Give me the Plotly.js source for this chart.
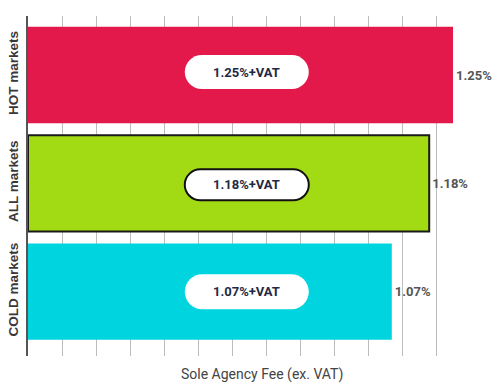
<!DOCTYPE html>
<html>
<head>
<meta charset="utf-8">
<script src="https://cdn.plot.ly/plotly-3.0.1.min.js"></script>
<style>
  html, body { margin: 0; padding: 0; background: #ffffff; }
  #chart { width: 497px; height: 389px; }
</style>
</head>
<body>
<div id="chart"></div>
<script>
// ---- data ----
const categories = ["HOT markets", "ALL markets", "COLD markets"];
const fees = [1.25, 1.18, 1.07];
const valueLabels = ["1.25%", "1.18%", "1.07%"];
const pillLabels = ["1.25%+VAT", "1.18%+VAT", "1.07%+VAT"];
const barColors = ["#E2194A", "#A2DA14", "#00D4DF"];
const xTitle = "Sole Agency Fee (ex. VAT)";

// ---- pill shape helper (rounded capsule in pixels) ----
function capsulePath(w, h, dy) {
  const r = h / 2, k = 0.5523 * r, hx = w / 2 - r;
  const p = (x, y) => `${x.toFixed(2)},${(y + dy).toFixed(2)}`;
  return `M ${p(-hx, -r)} L ${p(hx, -r)} ` +
    `C ${p(hx + k, -r)} ${p(hx + r, -k)} ${p(hx + r, 0)} ` +
    `C ${p(hx + r, k)} ${p(hx + k, r)} ${p(hx, r)} ` +
    `L ${p(-hx, r)} ` +
    `C ${p(-hx - k, r)} ${p(-hx - r, k)} ${p(-hx - r, 0)} ` +
    `C ${p(-hx - r, -k)} ${p(-hx - k, -r)} ${p(-hx, -r)} Z`;
}
const pillHeights = [34, 31, 35];
const pillBorders = [0, 2, 0];
const pillShift = [3, -1.5, 0];

const trace = {
  type: "bar",
  orientation: "h",
  y: categories,
  x: fees,
  width: 0.89,
  marker: {
    color: barColors,
    line: { color: ["rgba(0,0,0,0)", "#1a1a1a", "rgba(0,0,0,0)"], width: [0, 2, 0] }
  },
  text: valueLabels,
  textposition: "outside",
  constraintext: "none",
  cliponaxis: false,
  textfont: { family: "Roboto", size: 13, color: "#555555", weight: 700 },
  hoverinfo: "none"
};

const shapes = categories.map((c, i) => ({
  type: "path",
  xref: "paper", yref: "y",
  xsizemode: "pixel", ysizemode: "pixel",
  xanchor: 0.495, yanchor: c,
  path: capsulePath(124, pillHeights[i], pillShift[i]),
  fillcolor: "#ffffff",
  line: { color: pillBorders[i] ? "#111111" : "rgba(0,0,0,0)", width: pillBorders[i] },
  layer: "above"
}));

const annotations = categories.map((c, i) => ({
  xref: "paper", yref: "y",
  x: 0.495, y: c,
  yshift: pillShift[i],
  text: pillLabels[i],
  showarrow: false,
  font: { family: "Roboto", size: 13, color: "#1F2A44", weight: 700 },
  xanchor: "center", yanchor: "middle"
}));

annotations.push({
  xref: "paper", yref: "paper",
  x: 0.5, y: 0,
  xshift: 13, yshift: -8,
  xanchor: "center", yanchor: "top",
  text: xTitle,
  showarrow: false,
  font: { family: "Roboto", size: 14, color: "#444444" }
});

const layout = {
  width: 497, height: 389,
  margin: { l: 28, r: 27, t: 16, b: 33 },
  paper_bgcolor: "#ffffff",
  plot_bgcolor: "#ffffff",
  showlegend: false,
  xaxis: {
    range: [0, 1.3],
    dtick: 0.1,
    tick0: 0,
    showgrid: true,
    gridcolor: "#BDBDBD",
    gridwidth: 1,
    zeroline: false,
    showline: false,
    showticklabels: false,
    ticks: "",
    fixedrange: true
  },
  yaxis: {
    type: "category",
    categoryorder: "array",
    categoryarray: categories,
    range: [2.594, -0.545],
    showgrid: false,
    zeroline: false,
    showline: true,
    linecolor: "#555555",
    linewidth: 2,
    ticks: "",
    tickangle: -90,
    ticklabelstandoff: 3,
    tickfont: { family: "Liberation Sans", size: 13.5, color: "#383838", weight: 700 },
    fixedrange: true
  },
  shapes: shapes,
  annotations: annotations
};

Plotly.newPlot("chart", [trace], layout, { displayModeBar: false, staticPlot: true });
</script>
</body>
</html>
